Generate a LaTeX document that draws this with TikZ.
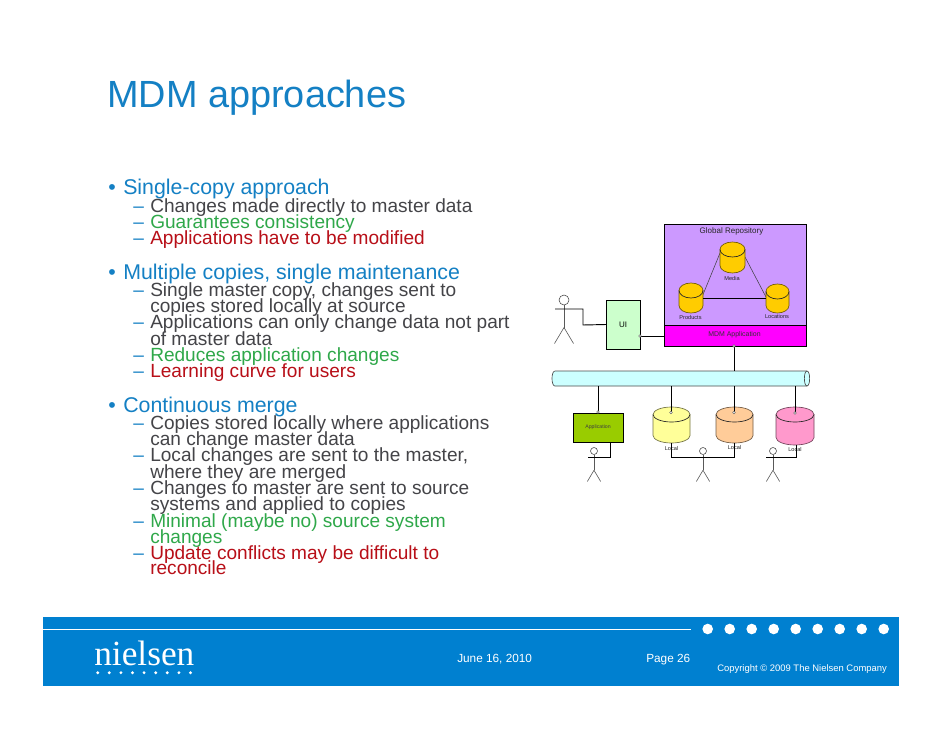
\documentclass[tikz,border=0pt]{standalone}
\usepackage{fontspec}
\setmainfont{Liberation Sans}
\newfontfamily\nserif{Liberation Serif}
\definecolor{nblue}{HTML}{0080D0}
\definecolor{tblue}{HTML}{1480C4}
\definecolor{ngreen}{HTML}{2FA84A}
\definecolor{nred}{HTML}{B80F18}
\definecolor{ngray}{HTML}{444448}
\definecolor{crepo}{RGB}{204,153,255}
\definecolor{cmag}{RGB}{255,0,255}
\definecolor{cui}{RGB}{204,255,204}
\definecolor{cbus}{RGB}{204,255,255}
\definecolor{capp}{RGB}{153,204,0}
\definecolor{cgold}{RGB}{255,204,0}
\definecolor{cyel}{RGB}{255,255,153}
\definecolor{cora}{RGB}{255,204,153}
\definecolor{cpink}{RGB}{255,153,204}
\newcommand{\lvla}[3]{\node[lvlone,text=#3] at (123,#1) {#2};\node[lvlone,text=tblue] at (108,#1) {•};}
\newcommand{\lvlb}[3]{\node[lvltwo,text=#3] at (150,#1) {#2};\node[lvltwo,text=tblue] at (133,#1) {–};}
\newcommand{\lvlc}[3]{\node[lvltwo,text=#3] at (150,#1) {#2};}
\newcommand{\actor}[4]{%
 \node[actorhead,minimum size=#4*1.5pt] (#1) at (#2,#3) {};
 \draw[actorline] (#1.south) -- ++(0,#4*4.5) coordinate (#1-hip);
 \draw[actorline] (#1-hip) -- ++(-#4*1.9,#4*3.2) coordinate (#1-l);
 \draw[actorline] (#1-hip) -- ++(#4*1.9,#4*3.2) coordinate (#1-r);
}
% name, centre x, top, bottom, x radius, y radius, colour
\newcommand{\cylv}[7]{%
 \pgfmathsetmacro{\cl}{#2-#5}\pgfmathsetmacro{\cr}{#2+#5}
 \pgfmathsetmacro{\kx}{0.5523*#5}
 \pgfmathsetmacro{\ka}{#3+#6}\pgfmathsetmacro{\kb}{#4-#6}
 \pgfmathsetmacro{\kc}{#3+#6-0.5523*#6}\pgfmathsetmacro{\kd}{#3+#6+0.5523*#6}
 \pgfmathsetmacro{\ke}{#4-#6+0.5523*#6}
 \pgfmathsetmacro{\xa}{#2-\kx}\pgfmathsetmacro{\xb}{#2+\kx}
 \pgfmathsetmacro{\ww}{(\cr-\cl)*0.75}\pgfmathsetmacro{\hh}{(#4-#3)*0.75}
 \pgfmathsetmacro{\mm}{(#3+#4)/2}
 \filldraw[fill=#7,draw=#7!45!black,line width=0.5pt] (\cl,\ka)
   .. controls (\cl,\kc) and (\xa,#3) .. (#2,#3)
   .. controls (\xb,#3) and (\cr,\kc) .. (\cr,\ka)
   -- (\cr,\kb)
   .. controls (\cr,\ke) and (\xb,#4) .. (#2,#4)
   .. controls (\xa,#4) and (\cl,\ke) .. (\cl,\kb) -- cycle;
 \draw[draw=black!85,line width=0.5pt] (\cl,\ka)
   .. controls (\cl,\kd) and (\xa,\ka+#6) .. (#2,\ka+#6)
   .. controls (\xb,\ka+#6) and (\cr,\kd) .. (\cr,\ka);
 \node[minimum width=\ww pt,minimum height=\hh pt,inner sep=0,outer sep=0] (#1) at (#2,\mm) {};
}
\tikzset{
 x=0.75pt,y=-0.75pt,
 lvlone/.style={anchor=base west,inner sep=0,font=\fontsize{16}{18}\selectfont},
 lvltwo/.style={anchor=base west,inner sep=0,font=\fontsize{14.3}{16}\selectfont},
 actorhead/.style={circle,draw=black!75,line width=0.4pt,inner sep=0,outer sep=0,fill=white},
 actorline/.style={draw=black!65,line width=0.45pt},
 conn/.style={draw=black,line width=0.7pt},
 thinconn/.style={draw=black!75,line width=0.4pt},
 port/.style={circle,draw=black!70,fill=white,line width=0.3pt,inner sep=0,minimum size=2pt,outer sep=0},
 box/.style={draw=black,line width=0.7pt,inner sep=0,outer sep=0},
 tiny/.style={inner sep=0,font=\fontsize{4.2}{5}\selectfont,text=black!85},
}
\begin{document}
\begin{tikzpicture}
\useasboundingbox (0,0) rectangle (942,728);
\fill[white] (0,0) rectangle (942,728);
% title and text
\node[anchor=base west,inner sep=0,font=\fontsize{28.4}{32}\selectfont,text=tblue] (title) at (107,107) {MDM approaches};
\lvla{194}{Single-copy approach}{tblue}
\lvlb{212}{Changes made directly to master data}{ngray}
\lvlb{228}{Guarantees consistency}{ngreen}
\lvlb{244}{Applications have to be modified}{nred}
\lvla{279}{Multiple copies, single maintenance}{tblue}
\lvlb{296}{Single master copy, changes sent to}{ngray}
\lvlc{312}{copies stored locally at source}{ngray}
\lvlb{328}{Applications can only change data not part}{ngray}
\lvlc{345}{of master data}{ngray}
\lvlb{361}{Reduces application changes}{ngreen}
\lvlb{377}{Learning curve for users}{nred}
\lvla{412}{Continuous merge}{tblue}
\lvlb{429}{Copies stored locally where applications}{ngray}
\lvlc{445}{can change master data}{ngray}
\lvlb{461}{Local changes are sent to the master,}{ngray}
\lvlc{478}{where they are merged}{ngray}
\lvlb{494}{Changes to master are sent to source}{ngray}
\lvlc{510}{systems and applied to copies}{ngray}
\lvlb{527}{Minimal (maybe no) source system}{ngreen}
\lvlc{543}{changes}{ngreen}
\lvlb{559}{Update conflicts may be difficult to}{nred}
\lvlc{574}{reconcile}{nred}
% footer
\fill[nblue] (43,617) rectangle (899,686);
\draw[white,line width=0.6pt] (43,629) -- (691,629);
\foreach \i in {0,...,8}{\fill[white] (707.7+\i*22,629) circle (5.3);}
\node[anchor=base west,inner sep=0,font=\nserif\fontsize{26.5}{30}\selectfont,text=white] (logo) at (94,665) {nielsen};
\foreach \i in {0,...,8}{\fill[white] (97.7+\i*11.6,672.7) circle (1.6);}
\node[anchor=base west,inner sep=0,font=\fontsize{8.85}{10}\selectfont,text=white] (date) at (457,662) {June 16, 2010};
\node[anchor=base west,inner sep=0,font=\fontsize{8.85}{10}\selectfont,text=white] (page) at (646,662) {Page 26};
\node[anchor=base west,inner sep=0,font=\fontsize{7.08}{9}\selectfont,text=white] (copy) at (717,671) {Copyright © 2009 The Nielsen Company};
% diagram
\node[box,fill=crepo,minimum width=106.5pt,minimum height=75.75pt] (repo) at (735,274.5) {};
\node[inner sep=0,font=\fontsize{6}{7}\selectfont,text=black!85] (repolabel) at (731.5,231) {Global Repository};
\node[box,fill=cmag,minimum width=106.5pt,minimum height=15.75pt] (mdm) at (735,335.5) {};
\node[inner sep=0,font=\fontsize{5.2}{6}\selectfont,text=black!80] (mdmlabel) at (734.5,335) {MDM Application};
\node[box,fill=cui,minimum width=25.5pt,minimum height=36.75pt,font=\fontsize{6}{7}\selectfont] (ui) at (623,324.5) {UI};
% message bus
\filldraw[fill=cbus,draw=black!70,line width=0.5pt] (555,371) -- (807,371)
  .. controls (810.5,371) and (810.5,386) .. (807,386) -- (555,386)
  .. controls (551,386) and (551,371) .. (555,371) -- cycle;
\draw[draw=black!70,line width=0.5pt] (807,371) .. controls (803.5,371) and (803.5,386) .. (807,386);
\node[minimum width=193.5pt,minimum height=11.25pt,inner sep=0,outer sep=0] (bus) at (681,378.5) {};
\node[box,fill=capp,minimum width=37.5pt,minimum height=21.75pt,font=\fontsize{3.9}{5}\selectfont,text=black!75] (app) at (598,427.5) {Application};
% global repository cylinders
\draw[thinconn] (702,297) -- (720,253);
\draw[thinconn] (745,257) -- (766,297);
\cylv{media}{732.5}{242}{273}{12.5}{7.5}{cgold}
\cylv{products}{691}{283}{313}{12}{7.5}{cgold}
\cylv{locations}{777.5}{284}{313}{11.5}{7.5}{cgold}
\node[tiny] (medialabel) at (732,278) {Media};
\node[tiny] (productslabel) at (690.5,317) {Products};
\node[tiny] (locationslabel) at (777,316) {Locations};
\draw[conn] (products.east |- 0,298) -- (locations.west |- 0,298);
% local cylinders
\cylv{locala}{671.5}{407}{443}{18.5}{7.5}{cyel}
\cylv{localb}{734.5}{407}{443}{18.5}{7.5}{cora}
\cylv{localc}{795}{407}{445}{19}{7.5}{cpink}
\node[tiny] (labela) at (671.5,448.5) {Local};
\node[tiny] (labelb) at (734.5,447) {Local};
\node[tiny] (labelc) at (795,449) {Local};
% connectors
\coordinate (mdmport) at (734,346);
\draw[conn] (mdmport) -- (734,371);
\node[port] (mdmp) at (mdmport) {};
\draw[conn] (ui.east |- 0,336) -- (mdm.west |- 0,336);
\node[port] (uip) at (640,336) {};
\draw[conn] (598,386) -- (app.north);
\node[port] (appp) at (598,412) {};
\draw[conn] (671,386) -- (671,412);
\node[port] (ap) at (671,412.5) {};
\draw[conn] (734,386) -- (734,412);
\node[port] (bp) at (734,412.5) {};
\draw[conn] (795.5,386) -- (795.5,413);
\node[port] (cp) at (795,413) {};
% actors
\actor{main}{564}{300}{5}
\draw[conn] (555,309) -- (583,309) -- (583,325) -- (ui.west);
\actor{aa}{594}{451}{3.5}
\draw[conn] (588,457) -- (610,457) -- (610,442);
\actor{ab}{703}{451}{3.5}
\draw[conn] (671,443) -- (671,457) -- (734,457) -- (734,443);
\actor{ac}{773}{451}{3.5}
\draw[conn] (766,457) -- (796,457) -- (796,445);
\end{tikzpicture}
\end{document}
